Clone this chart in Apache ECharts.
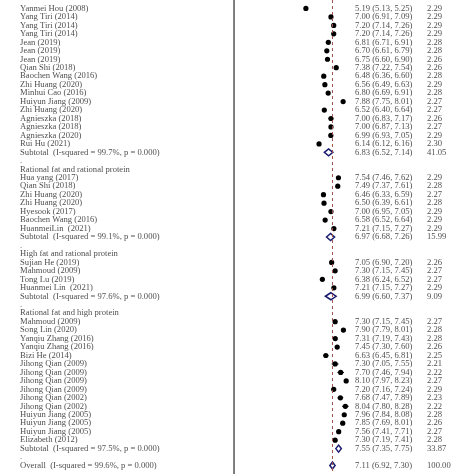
<!DOCTYPE html>
<html><head><meta charset="utf-8">
<script src="https://cdn.jsdelivr.net/npm/echarts@6/dist/echarts.min.js"></script>
<style>html,body{margin:0;padding:0;background:#fff}#c{width:474px;height:474px}</style>
</head><body><div id="c"></div>
<script>
const labels = [
"Yanmei Hou (2008)","Yang Tiri (2014)","Yang Tiri (2014)","Yang Tiri (2014)","Jean (2019)","Jean (2019)","Jean (2019)",
"Qian Shi (2018)","Baochen Wang (2016)","Zhi Huang (2020)","Minhui Cao (2016)","Huiyun Jiang (2009)","Zhi Huang (2020)",
"Agnieszka (2018)","Agnieszka (2018)","Agnieszka (2020)","Rui Hu (2021)","Subtotal  (I-squared = 99.7%, p = 0.000)",".",
"Rational fat and rational protein","Hua yang (2017)","Qian Shi (2018)","Zhi Huang (2020)","Zhi Huang (2020)","Hyesook (2017)",
"Baochen Wang (2016)","HuanmeiLin  (2021)","Subtotal  (I-squared = 99.1%, p = 0.000)",".",
"High fat and rational protein","Sujian He (2019)","Mahmoud (2009)","Tong Lu (2019)","Huanmei Lin  (2021)",
"Subtotal  (I-squared = 97.6%, p = 0.000)",".",
"Rational fat and high protein","Mahmoud (2009)","Song Lin (2020)","Yanqiu Zhang (2016)","Yanqiu Zhang (2016)","Bizi He (2014)",
"Jihong Qian (2009)","Jihong Qian (2009)","Jihong Qian (2009)","Jihong Qian (2009)","Jihong Qian (2002)","Jihong Qian (2002)",
"Huiyun Jiang (2005)","Huiyun Jiang (2005)","Huiyun Jiang (2005)","Elizabeth (2012)","Subtotal  (I-squared = 97.5%, p = 0.000)",".",
"Overall  (I-squared = 99.6%, p = 0.000)"];
const rowType = ["s","s","s","s","s","s","s","s","s","s","s","s","s","s","s","s","s","d","t",
"t","s","s","s","s","s","s","s","d","t",
"t","s","s","s","s","d","t",
"t","s","s","s","s","s","s","s","s","s","s","s","s","s","s","s","d","t","d"];
const est = [5.19,7.00,7.20,7.20,6.81,6.70,6.75,7.38,6.48,6.56,6.80,7.88,6.52,7.00,7.00,6.99,6.14,6.83,null,
null,7.54,7.49,6.46,6.50,7.00,6.58,7.21,6.97,null,
null,7.05,7.30,6.38,7.21,6.99,null,
null,7.30,7.90,7.31,7.45,6.63,7.30,7.70,8.10,7.20,7.68,8.04,7.96,7.85,7.56,7.30,7.55,null,7.11];
const lo = [5.13,6.91,7.14,7.14,6.71,6.61,6.60,7.22,6.36,6.49,6.69,7.75,6.40,6.83,6.87,6.93,6.12,6.52,null,
null,7.46,7.37,6.33,6.39,6.95,6.52,7.15,6.68,null,
null,6.90,7.15,6.24,7.15,6.60,null,
null,7.15,7.79,7.19,7.30,6.45,7.05,7.46,7.97,7.16,7.47,7.80,7.84,7.69,7.41,7.19,7.35,null,6.92];
const hi = [5.25,7.09,7.26,7.26,6.91,6.79,6.90,7.54,6.60,6.63,6.91,8.01,6.64,7.17,7.13,7.05,6.16,7.14,null,
null,7.62,7.61,6.59,6.61,7.05,6.64,7.27,7.26,null,
null,7.20,7.45,6.52,7.27,7.37,null,
null,7.45,8.01,7.43,7.60,6.81,7.55,7.94,8.23,7.24,7.89,8.28,8.08,8.01,7.71,7.41,7.75,null,7.30];
const weights = ["2.29","2.29","2.29","2.29","2.28","2.28","2.26","2.26","2.28","2.29","2.28","2.27","2.27","2.26","2.27","2.29","2.30","41.05","",
"","2.29","2.28","2.27","2.28","2.29","2.29","2.29","15.99","",
"","2.26","2.27","2.27","2.29","9.09","",
"","2.27","2.28","2.28","2.26","2.25","2.21","2.22","2.27","2.29","2.23","2.22","2.28","2.26","2.27","2.28","33.87","","100.00"];
const overall = 7.11;

const f = v => v.toFixed(2);
const studyData=[], diaData=[], nameData=[], esData=[], wData=[];
labels.forEach((l,i)=>{
  const r=i+1;
  nameData.push([-15.45,r,l]);
  if(est[i]!=null){
    const d=[est[i],r,lo[i],hi[i]];
    (rowType[i]==="d"?diaData:studyData).push(d);
    esData.push([8.74,r,f(est[i])+" ("+f(lo[i])+", "+f(hi[i])+")"]);
    wData.push([13.94,r,weights[i]]);
  }
});
const txt = (data)=>({type:'scatter',data,symbolSize:0,silent:true,
  label:{show:true,position:'right',distance:0,formatter:p=>p.data[2],fontFamily:'Liberation Serif',fontSize:8.6,color:'#1a1a1a'}});
const chart=echarts.init(document.getElementById('c'));
chart.setOption({
  animation:false,
  grid:{left:0,right:0,top:-1.63,height:483.3},
  xAxis:{type:'value',min:-16.9,max:17.33,show:false},
  yAxis:{type:'value',min:0,max:56,inverse:true,show:false},
  series:[
    {type:'line',data:[[0,0],[0,56]],symbol:'none',lineStyle:{color:'#555',width:1.5},silent:true},
    {type:'line',data:[[overall,0],[overall,56]],symbol:'none',lineStyle:{color:'#a0504a',width:1,type:[3,3]},silent:true},
    {type:'custom',data:studyData,renderItem:(p,api)=>{
      const a=api.coord([api.value(2),api.value(1)]), b=api.coord([api.value(3),api.value(1)]), c=api.coord([api.value(0),api.value(1)]);
      return {type:'group',children:[
        {type:'line',shape:{x1:a[0],y1:a[1],x2:b[0],y2:b[1]},style:{stroke:'#000',lineWidth:1}},
        {type:'circle',shape:{cx:c[0],cy:c[1],r:2.6},style:{fill:'#000'}}]};
    }},
    {type:'custom',data:diaData,renderItem:(p,api)=>{
      const a=api.coord([api.value(2),api.value(1)]), b=api.coord([api.value(3),api.value(1)]), c=api.coord([api.value(0),api.value(1)]);
      return {type:'polygon',shape:{points:[[a[0],a[1]],[c[0],c[1]-3.5],[b[0],b[1]],[c[0],c[1]+3.5]]},style:{fill:'#fff',stroke:'#1a1a6e',lineWidth:1.5}};
    }},
    txt(nameData),txt(esData),txt(wData)
  ]
});
</script></body></html>
